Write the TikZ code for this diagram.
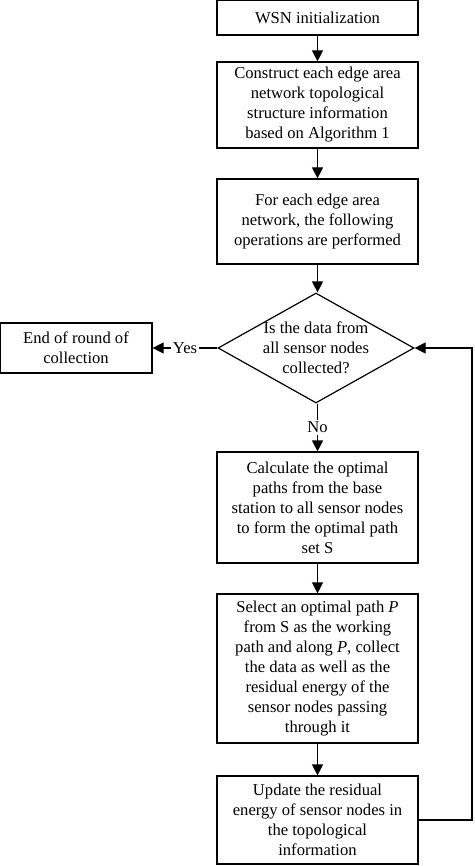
\documentclass[tikz,border=0pt]{standalone}
\usepackage{fontspec}
\setmainfont{Liberation Serif}
\usetikzlibrary{shapes.geometric,arrows.meta}
\begin{document}
\begin{tikzpicture}[x=1pt,y=-1pt,
  every node/.style={font=\fontsize{16.6}{20}\selectfont},
  procbox/.style={draw,line width=1.2pt,rectangle,align=center,minimum width=201pt,inner sep=0pt},
  flow/.style={line width=1.2pt,-{Triangle[width=11pt,length=11pt]}},
  lbl/.style={fill=white,inner sep=2pt}]
\useasboundingbox (0,0) rectangle (474,866);
\clip (0,0) rectangle (474,866);
\node[procbox,minimum height=34.5pt] (b1) at (317.5,17.75) {WSN initialization};
\node[procbox,minimum height=86pt] (b2) at (317.5,105) {Construct each edge area\\network topological\\structure information\\based on Algorithm 1};
\node[procbox,minimum height=85pt] (b3) at (317.5,221.5) {For each edge area\\network, the following\\operations are performed};
\node[diamond,draw,line width=1.2pt,minimum width=196pt,minimum height=110pt,inner sep=0pt] (d) at (316,348) {};
\node[align=center] (dt) at (d.center) {Is the data from\\all sensor nodes\\collected?};
\node[procbox,minimum width=152pt,minimum height=50pt] (e) at (76,348) {End of round of\\collection};
\node[procbox,minimum height=111pt] (b4) at (317.5,507.5) {Calculate the optimal\\paths from the base\\station to all sensor nodes\\to form the optimal path\\set S};
\node[procbox,minimum height=149pt] (b5) at (317.5,668.5) {Select an optimal path \textit{P}\\from S as the working\\path and along \textit{P}, collect\\the data as well as the\\residual energy of the\\sensor nodes passing\\through it};
\node[procbox,minimum height=88pt] (b6) at (317.5,820) {Update the residual\\energy of sensor nodes in\\the topological\\information};
\coordinate (c1) at (472,820);
\coordinate (c2) at (472,348);
\draw[flow] (b1) -- (b2);
\draw[flow] (b2) -- (b3);
\draw[flow] (b3) -- (b3 |- d.north);
\draw[flow] (d.west) -- node[lbl]{Yes} (e.east);
\draw[flow] (b4 |- d.south) -- node[lbl]{No} (b4.north);
\draw[flow] (b4) -- (b5);
\draw[flow] (b5) -- (b6);
\draw[flow] (b6.east) -- (c1) -- (c2) -- (d.east);
\end{tikzpicture}
\end{document}
